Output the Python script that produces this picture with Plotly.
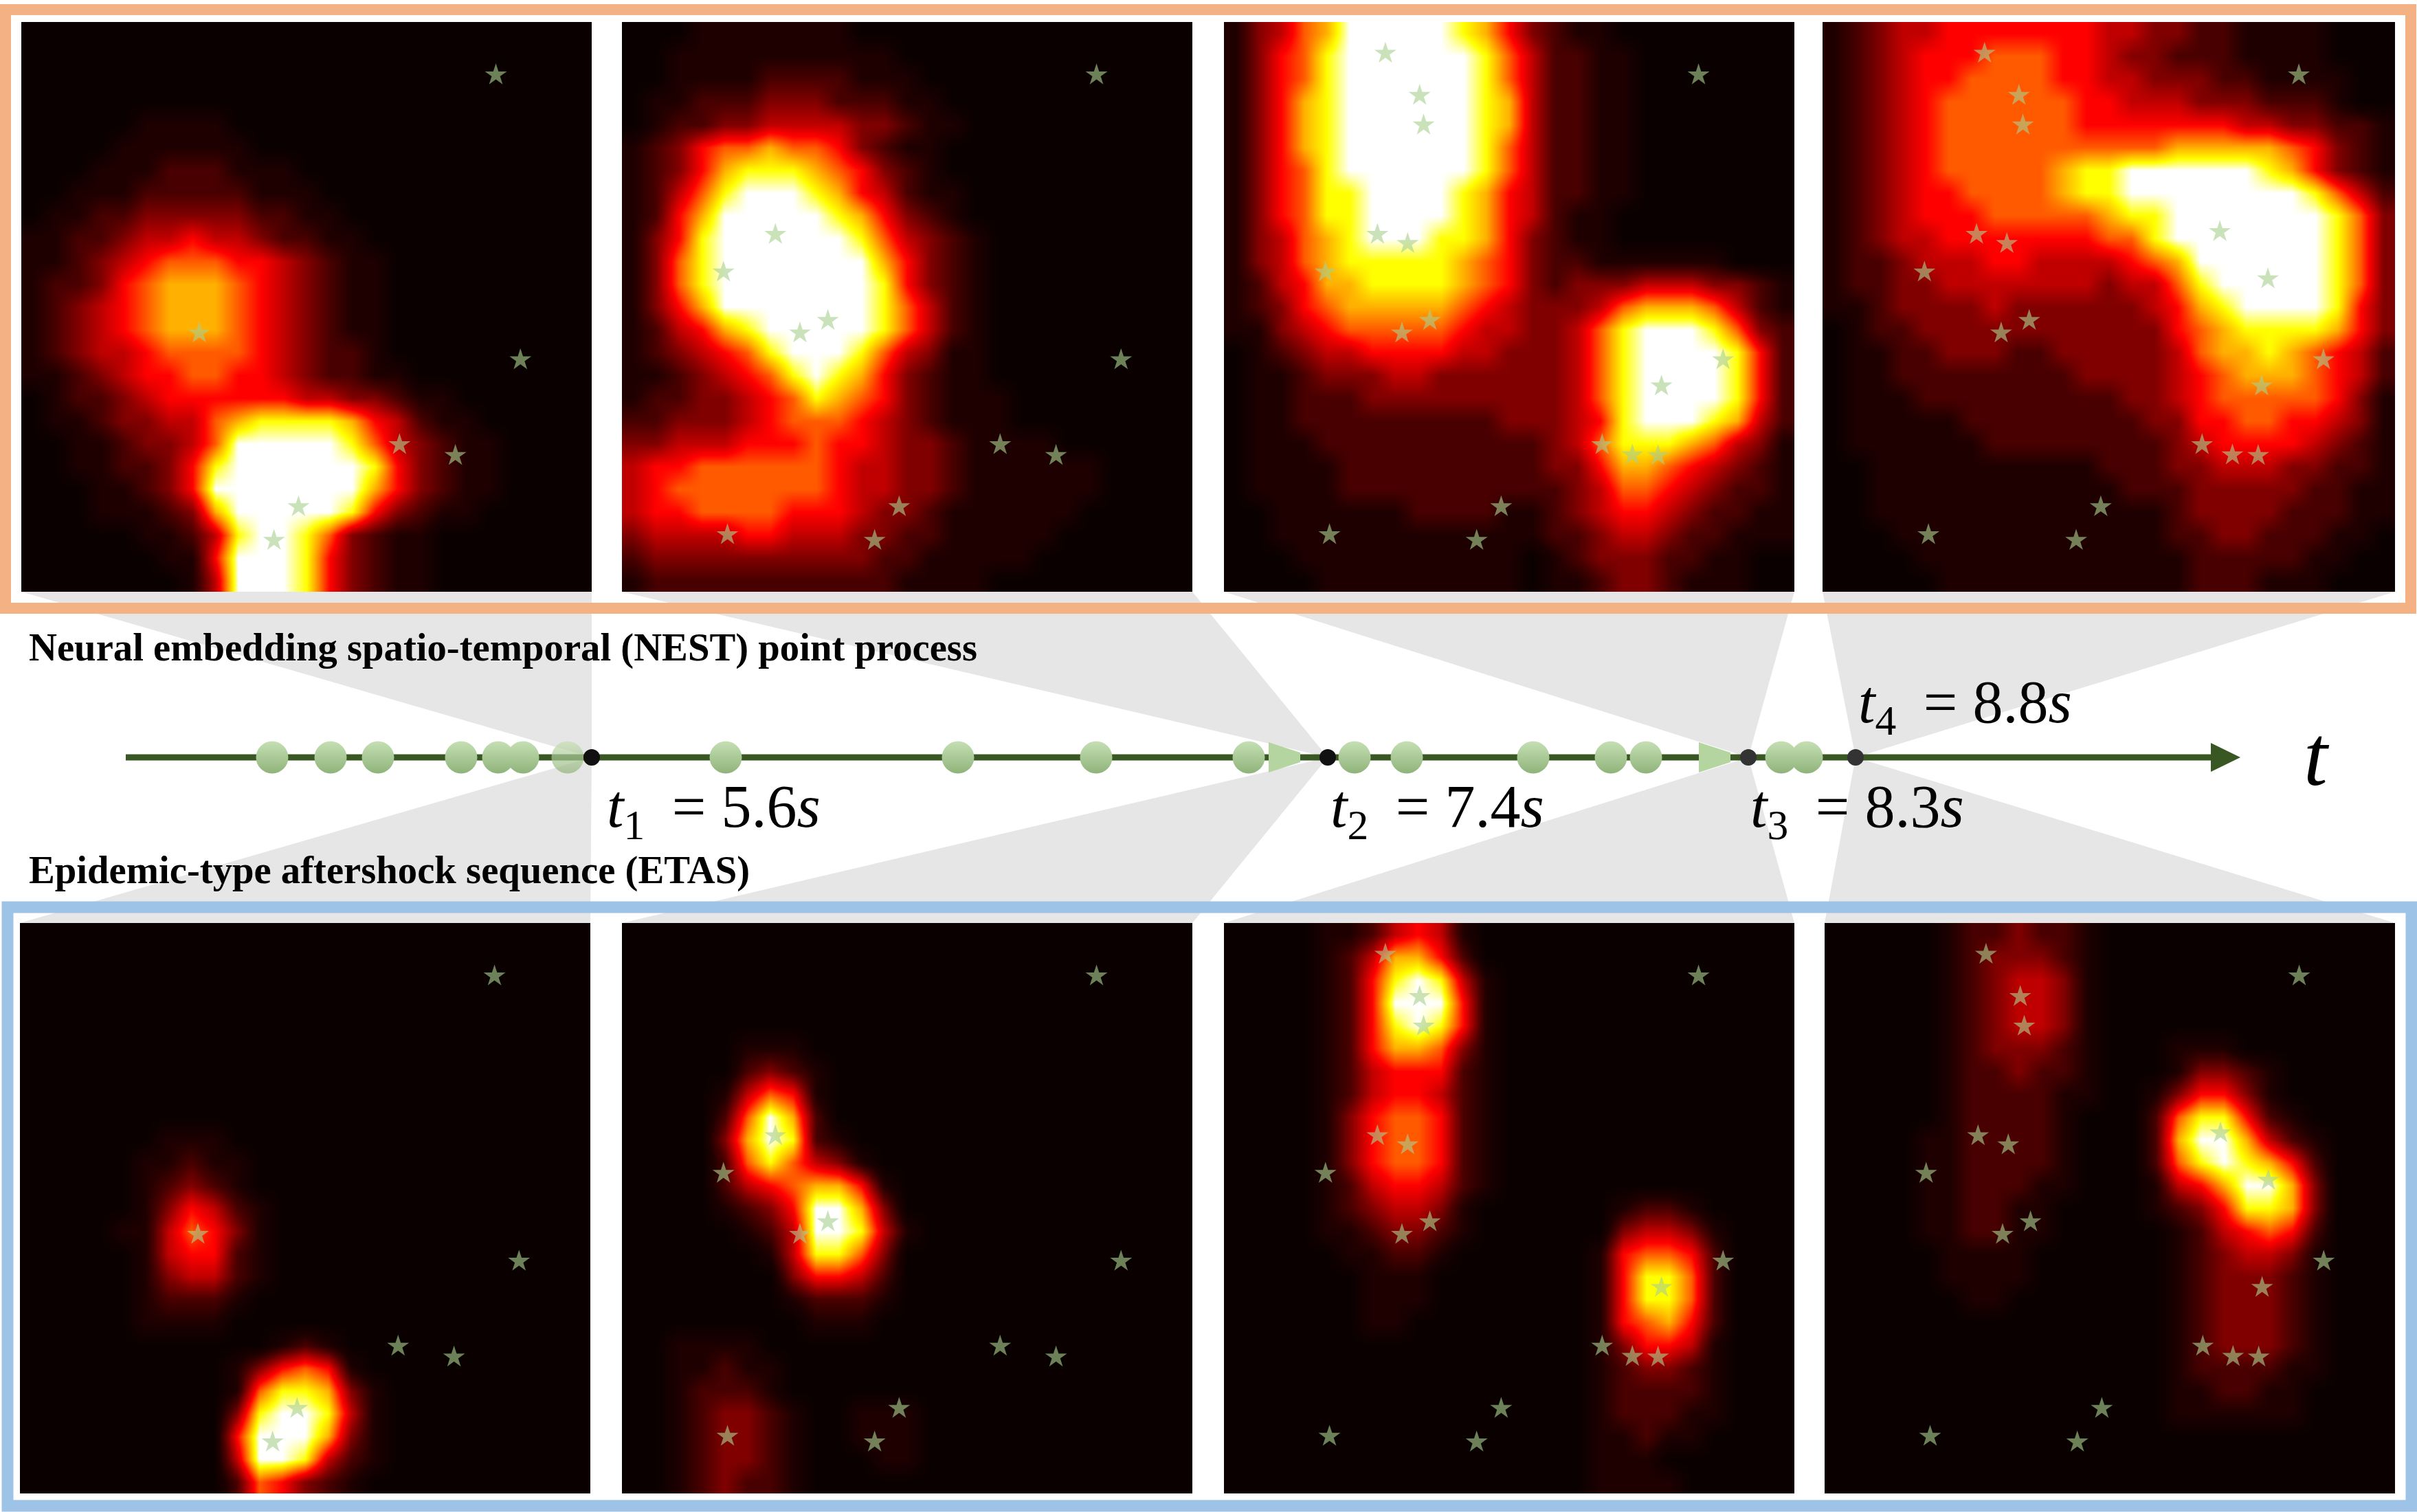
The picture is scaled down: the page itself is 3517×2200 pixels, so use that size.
import plotly.graph_objects as go

W, H = 3517, 2200

# intensity grids, one char per cell (0 dark .. 9 saturated), rows top to bottom
nest_1 = ["", "", "", "", "0000011110", "0000111111", "000111222111", "0011122222111",
    "01122333332211", "1122344544322110", "1123456665543211", "1223567776543211",
    "1234567776543211", "1234567776543211", "1234456666543221", "11234556655432211",
    "01223455555544332110", "01123344678888754211", "001123346999998643211",
    "001122358999999853211", "000112359999999753211", "000111237999998532110",
    "000001124899863211", "000000115999853211", "000000014999853211"]
nest_2 = ["000111111100", "0011111111110", "00111122221110", "011222333222110",
    "012233444433211", "12356676653211", "12357888765321", "124689998754211",
    "125799999875321", "1358999999864321", "1368999999975321", "1368999999985321",
    "1357999999986421", "1245789999986421", "1234568999864311", "1123456898753211",
    "12233456876532111", "223334566654321110", "33444555655433211110",
    "4556666665443321111110", "4566666665443321111110", "455666655543321111110",
    "344445544433221111100", "233333333332211111000", "1222222222221111000"]
nest_3 = ["13467999998753211", "135689999998642211", "135689999998642211",
    "135789999998742211", "135789999998742211", "135789999998642211",
    "135689999998642211", "135688999987542211", "13568899998754211",
    "13467899988753211", "1346788888765322111111", "1245778888765323334443321",
    "1235677777654333467776421", "1134566666544334689998632", "0123445555443334689999852",
    "0112333443333334689999852", "0112223333333334689999852", "0112222222223334589998742",
    "0111222222222234688876431", "0111122222222233577654321", "0111122222222223466543221",
    "0011111122221123455432211", "0011111111111122344322111", "0001111111111012333221100",
    "0000111111111011233211100"]
nest_4 = ["1234455555554433221111000", "1234555666554332221111000", "1234556666554433322111100",
    "1234566666655444333222100", "1234566666655555554433221", "1234566666666667777765321",
    "1234566666788999999875321", "1234556666788999999998642", "1234555666667889999999863",
    "1234455555556689999999863", "1223444554444567999999863", "1223344444443446899999863",
    "1123333433333345789999853", "0122333333333335678888753", "0112233322333334677876542",
    "0112222222233334567776542", "0111222222222334566666531", "0111112222222233556655431",
    "0111111222222223455554321", "0011111111112223344433221", "0011111111111222333332211",
    "0011111111111112333322211", "0001111111111112233222110", "0000111111111111222221100",
    "0000011111111111222111000"]
etas_1 = ["", "", "", "", "", "", "", "", "", "0000001110", "0000011211",
    "0000012321", "00000135421", "00001146531", "00000145521", "00000134421", "0000012221",
    "00000111100", "00000000000121", "000000000135651", "0000000001688731",
    "0000000003899841", "0000000005999731", "0000000004998421", "000000000265321"]
etas_2 = ["", "", "", "", "", "00000111", "000002321", "000014651", "000026972",
    "0000379821", "00002686431", "000024567751", "000012359973", "0000012499841",
    "000000148863", "000000035542", "000000012221", "00000000111", "00111100000",
    "0011211", "0012221", "0012332100111", "0012332100111", "0012332100011", "0012322100000"]
etas_3 = ["00001124541", "00001247752", "000012589841", "000012599951", "000012589851",
    "000012577631", "000012455521", "000012455421", "000013566521", "000013566521",
    "000013566521", "000012455421", "000012344310000001221", "0000112332100000034431",
    "0000011221000000156652", "0000001110000000158862", "0000001110000000158862",
    "0000001100000000156752", "0000000000000000135541", "0000000000000000123321",
    "0000000000000000122221", "0000000000000000122211",
    "0000000000000000112110", "00000000000000001110", "00000000000000001111"]
etas_4 = ["000001223221", "000001233321", "000001234431", "000001234431", "000001234431",
    "000001233321000111", "00000122322100013321", "00000122221100135531",
    "000001222210002688521", "0000112222100027997421",
    "0000112222100026898752", "0000112221100014579973",
    "0000112211000012358873", "0000112211000001245652", "0000011110000001234431",
    "0000011110000001233321", "0000001100000001233321", "0000000000000001233321",
    "0000000000000001233321", "0000000000000001222211", "0000000000000001122110",
    "0000000000000001111110", "", "", ""]
grids = [nest_1, nest_2, nest_3, nest_4, etas_1, etas_2, etas_3, etas_4]

# event locations, as fractions of the panel width / height from the top left
star_x = [.283, .343, .350, .832, .269, .322, .178, .361, .312, .694,
          .778, .875, .767, .663, .716, .761, .486, .443, .185]
star_y = [.055, .129, .181, .093, .373, .389, .439, .524, .546, .368,
          .451, .593, .639, .742, .760, .761, .851, .910, .900]
# which events have happened by t1..t4
seen_t1 = [3, 8, 11, 13, 15, 16, 17]
seen_t2 = [3, 4, 6, 7, 8, 11, 13, 15, 16, 17, 18]
seen_t3 = [0, 1, 2, 3, 4, 5, 6, 7, 8, 11, 12, 13, 14, 15, 16, 17, 18]
seen_t4 = list(range(19))
seen = [seen_t1, seen_t2, seen_t3, seen_t4] * 2

# timeline, positions along the drawn axis
event_pos = [396, 481, 550, 671, 725, 761, 826, 1056, 1394, 1595, 1817,
             1971, 2047, 2231, 2344, 2395, 2592, 2629]
event_alpha = [1, 1, 1, 1, 1, 1, .7, 1, 1, 1, 1, 1, 1, 1, 1, 1, 1, 1]
cone_pos = [1869, 2495]
query_pos = [861, 1932, 2544, 2700]
query_labels = ["<i>t</i><sub>1</sub> = 5.6<i>s</i>", "<i>t</i><sub>2</sub> = 7.4<i>s</i>",
                "<i>t</i><sub>3</sub> = 8.3<i>s</i>", "<i>t</i><sub>4</sub> = 8.8<i>s</i>"]
label_left = [881, 1934, 2545, 2702]
label_mid = [1179, 1179, 1179, 1027]

# panel frames in pixels
col_left = [[31, 905, 1781, 2652], [29, 905, 1781, 2655]]
col_right = [[861, 1735, 2611, 3485], [859, 1735, 2611, 3485]]
row_top = [32, 1343]
row_bottom = [861, 2173]

hot = [[0, "#0a0000"], [1 / 9, "#1e0000"], [2 / 9, "#480000"], [3 / 9, "#800000"],
       [4 / 9, "#c00000"], [5 / 9, "#ff0000"], [6 / 9, "#ff5a00"], [7 / 9, "#ffb000"],
       [8 / 9, "#ffff00"], [1, "#ffffff"]]

fig = go.Figure()

# timeline goes on a full page axis, panels on top of it
fig.add_trace(go.Scatter(x=[183, 3220], y=[1102, 1102], mode="lines",
                         line=dict(color="#385723", width=9), xaxis="x", yaxis="y"))
fig.add_trace(go.Scatter(x=event_pos, y=[1102] * len(event_pos), mode="markers", xaxis="x", yaxis="y",
                         marker=dict(size=47, color="#C5E0B4", opacity=event_alpha, line_width=0,
                                     gradient=dict(type="vertical", color="#8FB37A"))))
fig.add_trace(go.Scatter(x=query_pos, y=[1102] * 4, mode="markers", xaxis="x", yaxis="y",
                         marker=dict(size=24, color=["#111111", "#111111", "#333333", "#333333"], line_width=0)))

layout_axes = {}
n = 2
for row in range(2):
    for col in range(4):
        grid = [[int(c) for c in line.ljust(25, "0")] for line in grids[row * 4 + col]]
        fig.add_trace(go.Heatmap(z=grid, x0=0.02, dx=0.04, y0=0.02, dy=0.04, zmin=0, zmax=9,
                                 colorscale=hot, zsmooth="best", showscale=False,
                                 xaxis=f"x{n}", yaxis=f"y{n}"))
        ids = seen[row * 4 + col]
        fig.add_trace(go.Scatter(x=[star_x[i] for i in ids], y=[star_y[i] for i in ids], mode="markers",
                                 marker=dict(symbol="star", size=24, color="rgba(169,209,142,0.62)", line_width=0),
                                 xaxis=f"x{n}", yaxis=f"y{n}"))
        layout_axes[f"xaxis{n}"] = dict(domain=[col_left[row][col] / W, col_right[row][col] / W],
                                        range=[0, 1], visible=False, anchor=f"y{n}")
        layout_axes[f"yaxis{n}"] = dict(domain=[1 - row_bottom[row] / H, 1 - row_top[row] / H],
                                        range=[1, 0], visible=False, anchor=f"x{n}")
        n += 1

# grey wedges from each query time out to the panels
shapes = []
for row, edge in enumerate(row_bottom[:1] + row_top[1:]):
    for col in range(4):
        path = f"M {query_pos[col]} 1102 L {col_left[row][col]} {edge} L {col_right[row][col]} {edge} Z"
        shapes.append(dict(type="path", path=path, xref="x", yref="y", layer="below",
                           fillcolor="#E7E6E6", line_width=0))
shapes.append(dict(type="rect", x0=8, x1=3508, y0=14, y1=885, xref="x", yref="y", layer="below",
                   line=dict(color="#F4B183", width=16)))
shapes.append(dict(type="rect", x0=11, x1=3509, y0=1320, y1=2191, xref="x", yref="y", layer="below",
                   line=dict(color="#9DC3E6", width=17)))
# arrow head and the two clipped event marks
shapes.append(dict(type="path", path="M 3217 1081 L 3260 1102 L 3217 1123 Z", xref="x", yref="y",
                   fillcolor="#385723", line_width=0))
for p in cone_pos:
    shapes.append(dict(type="path", xref="x", yref="y", fillcolor="#B5D5A0", line_width=0,
                       path=f"M {p - 23} 1080 L {p + 23} 1095 L {p + 23} 1109 L {p - 23} 1124 Z"))

annotations = [
    dict(x=40, y=942, text="<b>Neural embedding spatio-temporal (NEST) point process</b>",
         font=dict(size=56.7)),
    dict(x=40, y=1266, text="<b>Epidemic-type aftershock sequence (ETAS)</b>", font=dict(size=56.7)),
    dict(x=3350, y=1100, text="<i>t</i>", font=dict(size=125)),
]
for left, mid, label in zip(label_left, label_mid, query_labels):
    annotations.append(dict(x=left, y=mid, text=label.replace(" = ", "\u2009 = "), font=dict(size=88)))
for a in annotations:
    a.update(xref="x", yref="y", xanchor="left", yanchor="middle", showarrow=False)
    a["font"].update(family="Liberation Serif", color="black")

fig.update_layout(
    width=W, height=H, autosize=False, showlegend=False,
    margin=dict(l=0, r=0, t=0, b=0),
    paper_bgcolor="white", plot_bgcolor="rgba(0,0,0,0)",
    xaxis=dict(domain=[0, 1], range=[0, W], visible=False),
    yaxis=dict(domain=[0, 1], range=[H, 0], visible=False),
    shapes=shapes, annotations=annotations,
    **layout_axes,
)

fig.write_html("out.html", config={"displayModeBar": False},
               post_script="document.body.style.margin='0';")
